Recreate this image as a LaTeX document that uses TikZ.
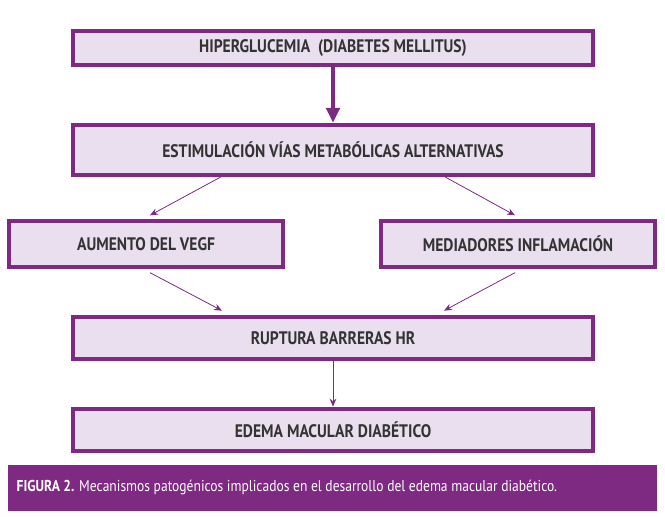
\documentclass[tikz,border=0pt]{standalone}
\usepackage{fontspec}
\setmainfont{PT Sans}[FakeStretch=0.86]
\usetikzlibrary{arrows.meta,calc}
\definecolor{morado}{HTML}{7E2A82}
\definecolor{lila}{HTML}{EADFEF}
\tikzset{caja/.style={draw=morado,fill=lila,line width=3pt,inner sep=0pt,
                      font=\fontsize{13.6pt}{15pt}\selectfont\bfseries,text=black!80},
         flecha/.style={-{Stealth[length=6pt,width=5pt]},draw=morado,line width=0.6pt}}
\begin{document}
\begin{tikzpicture}[x=0.75pt,y=-0.75pt]
  \useasboundingbox (0,0) rectangle (665,517);
  % cajas
  \node[caja,minimum width=390pt,minimum height=25pt] (hip) at (333,48)  {HIPERGLUCEMIA\ \ (DIABETES MELLITUS)};
  \node[caja,minimum width=390pt,minimum height=38pt] (est) at (333,150) {ESTIMULACIÓN VÍAS METABÓLICAS ALTERNATIVAS};
  \node[caja,minimum width=205pt,minimum height=34pt] (veg) at (146,244) {AUMENTO DEL VEGF};
  \node[caja,minimum width=206pt,minimum height=34pt] (med) at (518,244) {MEDIADORES INFLAMACIÓN};
  \node[caja,minimum width=390pt,minimum height=32pt] (rup) at (333,338) {RUPTURA BARRERAS HR};
  \node[caja,minimum width=390pt,minimum height=32pt] (ede) at (333,430) {EDEMA MACULAR DIABÉTICO};
  % pie
  \node[fill=morado,minimum width=487pt,minimum height=34pt,inner sep=0pt] (pie) at (332.5,488) {};
  \node[anchor=west,text=white,font=\fontsize{11.8pt}{13pt}\selectfont] (txt) at (12,488)
       {\textbf{FIGURA 2.} Mecanismos patogénicos implicados en el desarrollo del edema macular diabético.};
  % flechas
  \draw[-{Triangle[length=11pt,width=10pt]},draw=morado,fill=morado,line width=3.5pt] (hip.south) -- (est.north);
  \draw[flecha] ($(est.south)+(-111,-1)$) -- ($(veg.north)+(4,-4)$);
  \draw[flecha] ($(est.south)+(111,-1)$) -- ($(med.north)+(-3,-4)$);
  \draw[flecha] ($(veg.south)+(4,4)$) -- ($(rup.north)+(-111,-4)$);
  \draw[flecha] ($(med.south)+(-3,4)$) -- ($(rup.north)+(111,-4)$);
  \draw[flecha] (rup.south) -- (ede.north);
\end{tikzpicture}
\end{document}
